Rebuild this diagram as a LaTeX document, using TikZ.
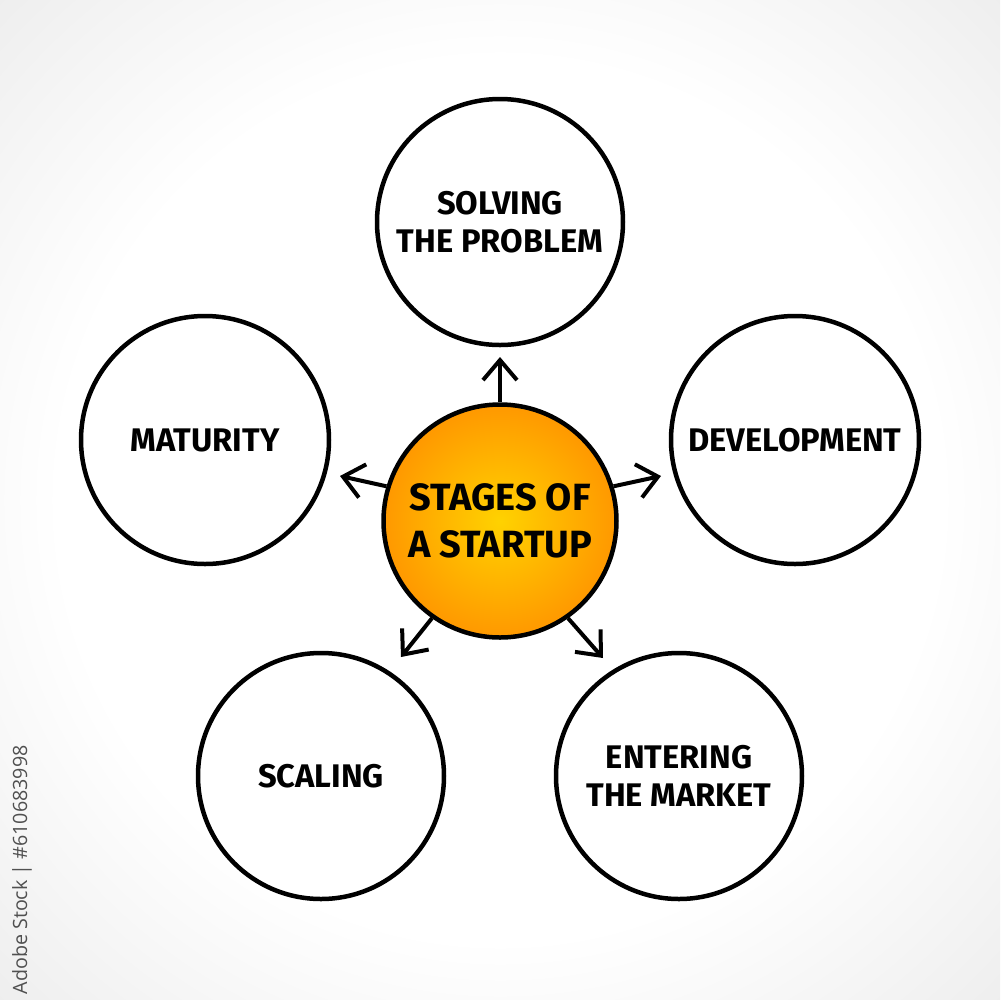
\documentclass[tikz,border=0pt]{standalone}
\usepackage{fontspec}
\setmainfont{Fira Sans}
\newfontfamily\wmfont{Open Sans}
\usetikzlibrary{arrows.meta}
\definecolor{bgedge}{HTML}{DCDCDC}
\definecolor{orin}{HTML}{FFD200}
\definecolor{orout}{HTML}{FF9800}
\definecolor{wmgray}{HTML}{505050}
\pgfdeclareradialshading{bgshade}{\pgfpoint{0bp}{0bp}}{color(0bp)=(white); color(22bp)=(white); color(50bp)=(bgedge)}
\tikzset{
  stage/.style={circle, draw=black, line width=0.45mm, fill=white, align=center, inner sep=0pt,
    font=\fontsize{9.3}{11}\selectfont\bfseries},
  hub/.style={circle, draw=black, line width=0.45mm, inner color=orin, outer color=orout,
    align=center, inner sep=0pt, font=\fontsize{10.8}{13.5}\selectfont\bfseries},
  link/.style={line width=0.4mm, -{Straight Barb[length=2mm,width=3.4mm,line width=0.4mm]}}
}
\begin{document}
\begin{tikzpicture}[x=0.1mm,y=-0.1mm]
\useasboundingbox (0,0) rectangle (1000,1000);
\shade[shading=bgshade] (0,0) rectangle (1000,1000);
% nodes
\node[stage, minimum size=24.6mm] (solve) at (500,222) {SOLVING\\THE PROBLEM};
\node[stage, minimum size=24.8mm] (mat) at (205,440) {MATURITY};
\node[stage, minimum size=24.8mm] (dev) at (795,440) {DEVELOPMENT};
\node[stage, minimum size=24.6mm] (scal) at (321,776) {SCALING};
\node[stage, minimum size=24.6mm] (mkt) at (679,776) {ENTERING\\THE MARKET};
\node[hub, minimum size=23.3mm] (hub) at (500,521) {STAGES OF\\A STARTUP};
% connectors
\coordinate (tsolve) at (500,357);
\coordinate (tdev) at (661,476);
\coordinate (tmat) at (340,476);
\coordinate (tscal) at (401,657);
\coordinate (tmkt) at (603,658);
\draw[link] (hub.90) -- (tsolve);
\draw[link] (hub.17) -- (tdev);
\draw[link] (hub.163) -- (tmat);
\draw[link] (hub.-125) -- (tscal);
\draw[link] (hub.-55) -- (tmkt);
% stock id
\node[rotate=90, text=wmgray, font=\wmfont\fontsize{5.6}{7}\selectfont, anchor=west, inner sep=0pt] (wm) at (22,995) {Adobe Stock | \#610683998};
\end{tikzpicture}
\end{document}
